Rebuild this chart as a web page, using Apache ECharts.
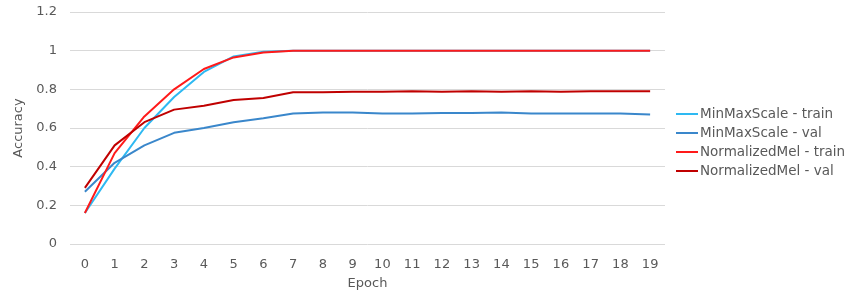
<!DOCTYPE html>
<html><head><meta charset="utf-8">
<script src="https://cdn.jsdelivr.net/npm/echarts@6/dist/echarts.min.js"></script>
<style>html,body{margin:0;padding:0;background:#fff}#c{width:858px;height:295px}</style>
</head><body><div id="c"></div>
<script>
const epochs = ['0','1','2','3','4','5','6','7','8','9','10','11','12','13','14','15','16','17','18','19'];
const minMaxTrain = [0.16,0.39,0.60,0.76,0.89,0.97,0.995,1.0,1.0,1.0,1.0,1.0,1.0,1.0,1.0,1.0,1.0,1.0,1.0,1.0];
const minMaxVal = [0.27,0.42,0.51,0.575,0.60,0.63,0.65,0.675,0.68,0.68,0.675,0.675,0.677,0.677,0.68,0.675,0.675,0.675,0.675,0.67];
const normMelTrain = [0.16,0.47,0.66,0.80,0.905,0.965,0.99,1.0,1.0,1.0,1.0,1.0,1.0,1.0,1.0,1.0,1.0,1.0,1.0,1.0];
const normMelVal = [0.29,0.51,0.63,0.695,0.715,0.745,0.755,0.785,0.785,0.787,0.787,0.79,0.787,0.79,0.787,0.79,0.787,0.79,0.79,0.79];
const names = ['MinMaxScale - train','MinMaxScale - val','NormalizedMel - train','NormalizedMel - val'];
const colors = ['#2EB9F2','#3A87CB','#FF1A1A','#C00000'];
const FONT = 'DejaVu Sans';
const chart = echarts.init(document.getElementById('c'), null, {renderer:'canvas'});
const mk = (i, d) => ({name:names[i], type:'line', data:d, symbol:'none', smooth:false,
  lineStyle:{width:2, color:colors[i]}, itemStyle:{color:colors[i]}});
chart.setOption({
  animation:false,
  color: colors,
  grid:{left:70, right:193, top:12, bottom:51},
  legend:{orient:'vertical', left:671, top:102, itemWidth:22, itemHeight:2, itemGap:5,
    icon:'rect', textStyle:{fontFamily:FONT, fontSize:13.5, color:'#595959', padding:[0,0,0,-3]},
    data:names},
  xAxis:{type:'category', data:epochs, boundaryGap:true,
    name:'Epoch', nameLocation:'middle', nameGap:33,
    nameTextStyle:{fontFamily:FONT, fontSize:13, color:'#595959'},
    axisLine:{show:false}, axisTick:{show:false},
    axisLabel:{fontFamily:FONT, fontSize:13, color:'#595959', margin:14}},
  yAxis:{type:'value', min:0, max:1.2, interval:0.2,
    name:'Accuracy', nameLocation:'middle', nameGap:39,
    nameTextStyle:{fontFamily:FONT, fontSize:13, color:'#595959'},
    axisLine:{show:false}, axisTick:{show:false},
    splitLine:{lineStyle:{color:'#D9D9D9', width:1}},
    axisLabel:{fontFamily:FONT, fontSize:13, color:'#595959', margin:13,
      formatter:v=>String(Math.round(v*10)/10)}},
  series:[mk(0,minMaxTrain), mk(1,minMaxVal), mk(2,normMelTrain), mk(3,normMelVal)]
});
</script></body></html>
